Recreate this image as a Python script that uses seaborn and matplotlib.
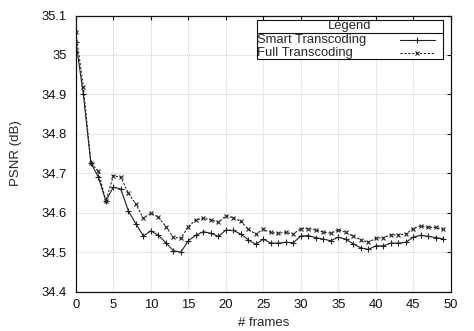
import matplotlib
matplotlib.use("Agg")
import matplotlib.pyplot as plt
import seaborn as sns
import pandas as pd
from matplotlib.lines import Line2D
from matplotlib.patches import Rectangle

frames = list(range(50))
smart = [35.034, 34.90, 34.727, 34.69, 34.63, 34.665, 34.66, 34.605, 34.572, 34.541,
         34.554, 34.543, 34.524, 34.504, 34.50, 34.529, 34.543, 34.552, 34.548, 34.54,
         34.556, 34.555, 34.546, 34.531, 34.52, 34.533, 34.523, 34.523, 34.525, 34.524,
         34.541, 34.542, 34.537, 34.533, 34.529, 34.538, 34.533, 34.521, 34.511, 34.507,
         34.516, 34.516, 34.523, 34.523, 34.525, 34.538, 34.543, 34.54, 34.537, 34.534]
full = [35.058, 34.92, 34.727, 34.705, 34.63, 34.694, 34.69, 34.65, 34.622, 34.586,
        34.599, 34.589, 34.565, 34.538, 34.535, 34.565, 34.582, 34.586, 34.582, 34.576,
        34.592, 34.587, 34.578, 34.558, 34.546, 34.558, 34.55, 34.548, 34.55, 34.546,
        34.56, 34.56, 34.556, 34.551, 34.548, 34.557, 34.55, 34.54, 34.531, 34.525,
        34.535, 34.537, 34.544, 34.544, 34.546, 34.56, 34.567, 34.563, 34.563, 34.558]
series_names = ["Smart Transcoding", "Full Transcoding"]
xticks = [0, 5, 10, 15, 20, 25, 30, 35, 40, 45, 50]
yticks = [34.4, 34.5, 34.6, 34.7, 34.8, 34.9, 35.0, 35.1]
ytick_labels = ["34.4", "34.5", "34.6", "34.7", "34.8", "34.9", "35", "35.1"]

sns.set_style("white")
plt.rcParams["font.family"] = ["Liberation Sans", "DejaVu Sans"]
FS = 9.4

df_s = pd.DataFrame({"frame": frames, "psnr": smart})
df_f = pd.DataFrame({"frame": frames, "psnr": full})

fig = plt.figure(figsize=(4.74, 3.31), dpi=100)
ax = fig.add_axes([0.160, 0.119, 0.791, 0.834])

C = "#222222"
sns.lineplot(data=df_s, x="frame", y="psnr", color=C, linestyle="-", marker="+",
             markersize=4, markeredgewidth=0.8, markeredgecolor=C, linewidth=0.8, ax=ax)
sns.lineplot(data=df_f, x="frame", y="psnr", color=C, linestyle=(0, (2, 1.5)), marker="x",
             markersize=3.5, markeredgewidth=0.8, markeredgecolor=C, linewidth=0.8, ax=ax)

ax.set_xlim(0, 50)
ax.set_ylim(34.4, 35.1)
ax.set_xticks(xticks)
ax.set_yticks(yticks)
ax.set_yticklabels(ytick_labels)
ax.set_xlabel("# frames", fontsize=9.5, labelpad=4)
ax.set_ylabel("PSNR (dB)", fontsize=9.5, labelpad=14)
ax.grid(True, color="#bbbbbb", linestyle=(0, (1, 1.5)), linewidth=0.6)
ax.tick_params(direction="in", top=True, right=True, length=3, width=0.8,
               labelsize=FS, colors="#111111")
ax.tick_params(axis="x", pad=5.5)
ax.tick_params(axis="y", pad=6.5)
for s in ax.spines.values():
    s.set_color("#111111")
    s.set_linewidth(0.9)

# legend box (gnuplot style)
def fx(px):
    return (px - 76) / 375.0
def fy(py):
    return (291.7 - py) / 276.0

x0, x1, y0, y1 = fx(257), fx(443), fy(59), fy(20)
ax.add_patch(Rectangle((x0, y0), x1 - x0, y1 - y0, transform=ax.transAxes,
                       facecolor="white", edgecolor="#111111", linewidth=0.8, zorder=10))
ax.add_line(Line2D([x0, x1], [fy(33), fy(33)], transform=ax.transAxes,
                   color="#111111", linewidth=0.8, zorder=11))
ax.text((x0 + x1) / 2, fy(26.5), "Legend", transform=ax.transAxes, ha="center",
        va="center", fontsize=FS, zorder=12)
rows = [(fy(40), "-", "+", 4), (fy(53), (0, (2, 1.5)), "x", 3.5)]
for (yy, ls, mk, ms), name in zip(rows, series_names):
    ax.text(x0, yy, name, transform=ax.transAxes, ha="left", va="center",
            fontsize=FS, zorder=12)
    ax.add_line(Line2D([fx(400), fx(435)], [yy, yy], transform=ax.transAxes,
                       color=C, linewidth=0.8, linestyle=ls, zorder=12))
    ax.add_line(Line2D([fx(417)], [yy], transform=ax.transAxes, color=C,
                       marker=mk, markersize=ms, markeredgewidth=0.8,
                       linestyle="none", zorder=12))

fig.savefig("out.png", dpi=100)
